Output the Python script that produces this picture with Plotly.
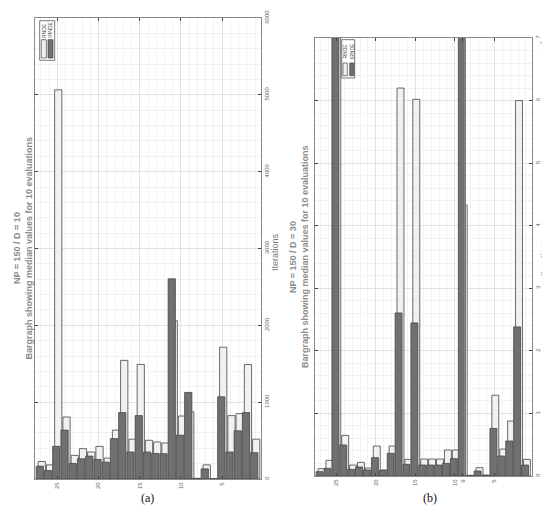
import plotly.graph_objects as go

W, H = 550, 507

# categories 1..27 (drawn reversed, 27 on the left)
cats = list(range(1, 28))

# panel (a): NP = 150 / D = 10, values listed for cat 1..27
a_rnde = [518, 1491, 851, 825, 1715, 0, 184, 0, 875, 820, 2060, 469, 482, 504, 1491,
          518, 1544, 636, 272, 425, 351, 395, 307, 807, 5065, 184, 228]
a_irnde = [342, 864, 627, 351, 1070, 3, 132, 9, 1127, 570, 2605, 329, 333, 351, 825,
           351, 864, 526, 219, 254, 298, 263, 202, 636, 425, 110, 167]

# panel (b): NP = 150 / D = 30
b_rnde = [2660, 60000, 8780, 4300, 12900, 0, 1330, 0, 43300, 4150, 4150, 2710, 2710, 2710, 60200,
          2660, 62000, 4790, 960, 4790, 1280, 2180, 1755, 6490, 75000, 2500, 1170]
b_irnde = [1755, 23830, 5590, 3190, 7600, 160, 800, 100, 75000, 2770, 2020, 1755, 1755, 1755, 24470,
           1860, 26060, 3620, 900, 2930, 960, 1440, 1060, 4950, 75000, 1220, 690]

a_yticks = [0, 1000, 2000, 3000, 4000, 5000, 6000]
b_yticks = [0, 10000, 20000, 30000, 40000, 50000, 60000, 70000]
b_yticktext = ["0", "1", "2", "3", "4", "5", "6", "7"]

series_names = ["RNDE", "IRNDE"]
light = "#f1f1f1"
dark = "#707070"
edge = "#454545"
title_gray = "#8c8c8c"


def px(x):
    return x / W


def py(y):
    return 1 - y / H


fig = go.Figure()

for xa, ya, rnde, irnde in [("x", "y", a_rnde, a_irnde), ("x2", "y2", b_rnde, b_irnde)]:
    fig.add_trace(go.Bar(x=cats, y=rnde, name=series_names[0], xaxis=xa, yaxis=ya,
                         offset=-0.56, width=0.88, marker_color=light,
                         marker_line=dict(color=edge, width=0.8), showlegend=False))
    fig.add_trace(go.Bar(x=cats, y=irnde, name=series_names[1], xaxis=xa, yaxis=ya,
                         offset=-0.32, width=0.88, marker_color=dark,
                         marker_line=dict(color=edge, width=0.8), showlegend=False))

tickfont = dict(family="Liberation Sans", size=6, color="#666666")
common_x = dict(range=[27.7, 0.3], tickangle=-90, ticks="inside", ticklen=3,
                tickcolor="#444444", showline=True, linecolor="#8a8a8a", linewidth=1,
                mirror="ticks", showgrid=True, gridcolor="#e2e2e2", zeroline=False,
                tickfont=tickfont, automargin=False,
                minor=dict(dtick=1, tick0=0, showgrid=True, gridcolor="#f2f2f2"))
common_y = dict(side="right", tickangle=-90, ticks="inside", ticklen=3,
                tickcolor="#444444", showline=True, linecolor="#8a8a8a", linewidth=1,
                mirror="ticks", showgrid=True, gridcolor="#e2e2e2", zeroline=False,
                tickfont=tickfont, automargin=False)

fig.update_layout(
    width=W, height=H,
    margin=dict(l=0, r=0, t=0, b=0),
    paper_bgcolor="white", plot_bgcolor="white",
    barmode="overlay",
    xaxis=dict(domain=[px(27), px(253)], anchor="y", tickvals=[5, 10, 15, 20, 25], **common_x),
    yaxis=dict(domain=[py(471), py(10)], anchor="x", range=[0, 6000], tickvals=a_yticks,
               minor=dict(dtick=200, showgrid=True, gridcolor="#f2f2f2"), **common_y),
    xaxis2=dict(domain=[px(307), px(523.5)], anchor="y2", tickvals=[5, 9, 10, 15, 20, 25], **common_x),
    yaxis2=dict(domain=[py(468), py(30)], anchor="x2", range=[0, 70000], tickvals=b_yticks,
                ticktext=b_yticktext,
                minor=dict(dtick=2000, showgrid=True, gridcolor="#f2f2f2"), **common_y),
)

# separator line seen inside panel (b)
fig.add_shape(type="line", xref="x2", yref="y2 domain", x0=8.75, x1=8.75, y0=0, y1=1,
              line=dict(color="#8a8a8a", width=1))

ann = []
tfont = dict(family="Liberation Sans", size=9, color=title_gray)
for xc1, xc2, yc, sub in [(9, 20.5, 240, "NP = 150 / D = 10"), (285, 297, 249, "NP = 150 / D = 30")]:
    ann.append(dict(x=px(xc1), y=py(yc), text="<b>" + sub + "</b>", textangle=-90, font=tfont))
    ann.append(dict(x=px(xc2), y=py(yc), text="<b>Bargraph showing median values for 10 evaluations</b>",
                    textangle=-90, font=tfont))

ifont = dict(family="Liberation Sans", size=9, color="#777777")
ann.append(dict(x=px(267), y=py(244), text="Iterations", textangle=-90, font=ifont))
ann.append(dict(x=px(536), y=py(249), text="Iterations", textangle=-90, font=ifont))
ann.append(dict(x=px(535), y=py(40), text="×10<sup>4</sup>", textangle=-90,
                font=dict(family="Liberation Sans", size=6, color="#666666")))

cfont = dict(family="Liberation Serif", size=12, color="#111111")
ann.append(dict(x=px(140), y=py(490), text="(a)", font=cfont))
ann.append(dict(x=px(422), y=py(490), text="(b)", font=cfont))

# hand-drawn legends (rotated like the rest of the figure)
shapes = []
lfont = dict(family="Liberation Sans", size=5, color="#333333")
for bx0, bx1, by0, by1, wx0, wx1, dx0, dx1, py0, py1 in [
        (31.7, 46.7, 12.7, 52.3, 33.3, 38.3, 40.0, 45.0, 31.7, 50.0),
        (333.7, 346.7, 31.7, 70.0, 335.0, 339.3, 341.7, 346.0, 55.0, 67.7)]:
    shapes.append(dict(type="rect", xref="paper", yref="paper", x0=px(bx0), x1=px(bx1),
                       y0=py(by1), y1=py(by0), line=dict(color="#555555", width=0.8),
                       fillcolor="white"))
    shapes.append(dict(type="rect", xref="paper", yref="paper", x0=px(wx0), x1=px(wx1),
                       y0=py(py1), y1=py(py0), line=dict(color=edge, width=0.7), fillcolor=light))
    shapes.append(dict(type="rect", xref="paper", yref="paper", x0=px(dx0), x1=px(dx1),
                       y0=py(py1), y1=py(py0), line=dict(color=edge, width=0.7), fillcolor=dark))
    ty = (by0 + py0) / 2
    ann.append(dict(x=px((wx0 + wx1) / 2), y=py(ty), text=series_names[0], textangle=-90, font=lfont))
    ann.append(dict(x=px((dx0 + dx1) / 2), y=py(ty), text=series_names[1], textangle=-90, font=lfont))

for a in ann:
    a.update(xref="paper", yref="paper", showarrow=False, xanchor="center", yanchor="middle")
    fig.add_annotation(**a)
for s in shapes:
    fig.add_shape(**s)

fig.write_html("out.html")
